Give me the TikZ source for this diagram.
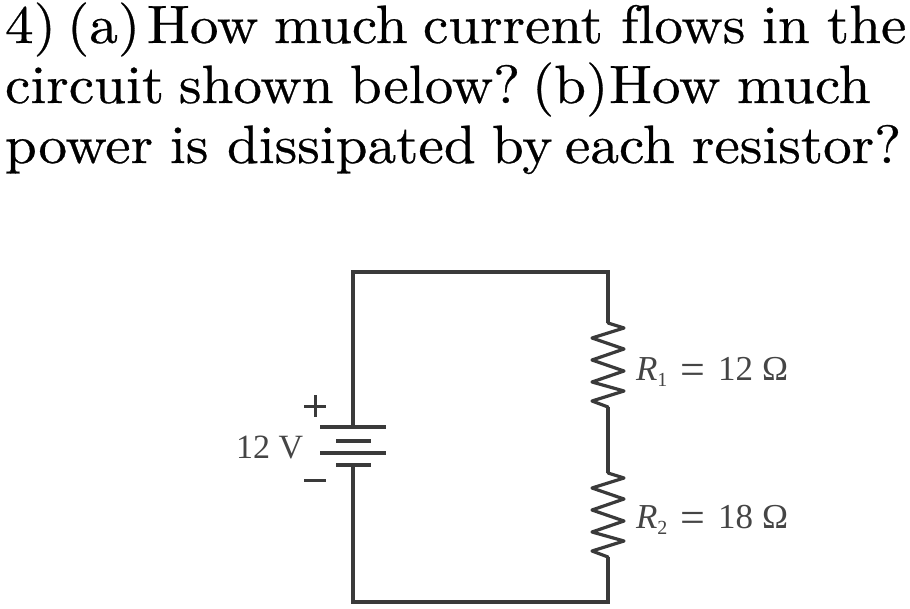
\documentclass[tikz,border=0pt]{standalone}
\usepackage{fontspec}
\newfontfamily\labelfont{Liberation Serif}
\font\questionfont="[lmroman10-regular]:mapping=tex-text;-liga;extend=1.06;embolden=0.5" at 54pt
\newcommand{\wordat}[2]{\makebox[#1pt][l]{#2 }}
\newcommand{\resistorlabel}[2]{\textit{R}\raisebox{-6pt}{\fontsize{20}{22}\selectfont #1}\hspace{13pt}\raisebox{-4.5pt}{\fontsize{44}{44}\selectfont =}\hspace{13pt}#2\hspace{9pt}Ω}
\tikzset{
  wire/.style={draw=wirecol,line width=3.4pt,line join=miter,line cap=butt},
  zigzag/.style={draw=wirecol,line width=3.2pt,line join=round,line cap=round},
  plate/.style={draw=wirecol,line width=3.2pt},
  sign/.style={draw=wirecol,line width=3pt},
  question/.style={anchor=base west,inner sep=0pt,outer sep=0pt,text=black,font=\questionfont},
  valuelabel/.style={anchor=base west,inner sep=0pt,outer sep=0pt,text=labelcol,font=\labelfont\fontsize{34}{38}\selectfont},
  resistorvalue/.style={valuelabel,font=\labelfont\fontsize{35}{38}\selectfont}
}
\definecolor{wirecol}{HTML}{3A3A3A}
\definecolor{labelcol}{HTML}{454545}
\begin{document}
\begin{tikzpicture}[x=1pt,y=-1pt]
\useasboundingbox (0,0) rectangle (910,608);
\fill[white] (0,0) rectangle (910,608);
\node[question] (q1) at (5,43) {\wordat{62}{4)}\wordat{80}{(a)}\wordat{127}{How}\wordat{149}{much}\wordat{198}{current}\wordat{141}{flows}\wordat{65}{in}the};
\node[question] (q2) at (5,103) {\wordat{174}{circuit}\wordat{171}{shown}\wordat{182}{below?}\wordat{77}{(b)}\wordat{128}{How}much};
\node[question] (q3) at (5,163) {\wordat{165}{power}\wordat{57}{is}\wordat{265}{dissipated}\wordat{73}{by}\wordat{127}{each}resistor?};

\coordinate (tl) at (353,272);
\coordinate (tr) at (608,272);
\coordinate (bl) at (353,602);
\coordinate (br) at (608,602);
\coordinate (battop) at (353,427);
\coordinate (batbot) at (353,465);
\coordinate (r1top) at (608,323);
\coordinate (r1bot) at (608,407);
\coordinate (r2top) at (608,473);
\coordinate (r2bot) at (608,557);

\draw[wire] (battop) -- (tl) -- (tr) -- (r1top);
\draw[wire] (r1bot) -- (r2top);
\draw[wire] (r2bot) -- (br) -- (bl) -- (batbot);

\draw[zigzag] (r1top) -- ++(16,5) -- ++(-32,10) -- ++(32,11) -- ++(-32,11) -- ++(32,11) -- ++(-32,11) -- ++(32,9) -- ++(-32,10) -- (r1bot);
\draw[zigzag] (r2top) -- ++(16,5) -- ++(-32,10) -- ++(32,11) -- ++(-32,11) -- ++(32,11) -- ++(-32,11) -- ++(32,9) -- ++(-32,10) -- (r2bot);

\draw[plate] (320,427) -- (386,427);
\draw[plate] (336,441) -- (371,441);
\draw[plate] (320,453) -- (386,453);
\draw[plate] (336,465) -- (371,465);

\draw[sign] (304,406) -- (326,406);
\draw[sign] (315,395) -- (315,417);
\draw[sign] (304,480) -- (326,480);

\node[valuelabel] (v) at (236,458) {12 V};
\node[resistorvalue] (r1) at (636,380) {\resistorlabel{1}{12}};
\node[resistorvalue] (r2) at (636,528) {\resistorlabel{2}{18}};
\end{tikzpicture}
\end{document}
